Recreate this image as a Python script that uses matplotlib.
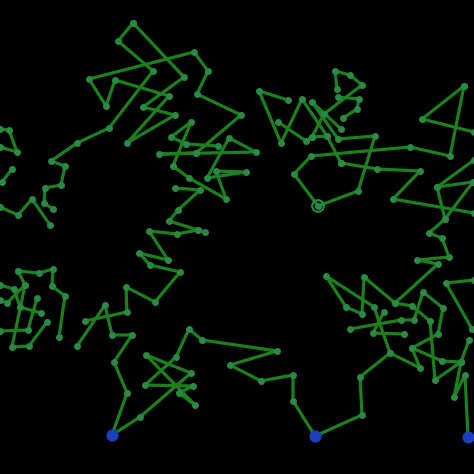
import matplotlib
matplotlib.use("Agg")
import matplotlib.pyplot as plt

# polylines in image pixel coordinates (x right, y down)
chain_a = [(112,435),(127,393),(114,362),(132,335),(112,335),(105,305),(77,346)]
chain_b = [(85,321),(127,312),(126,287),(155,302),(180,272),(150,265),(139,253),(168,260),(149,231),(177,234),(198,230),(205,232)]
chain_c = [(112,435),(140,417),(191,373),(146,355),(195,405),(179,393),(193,386),(145,385),(176,357),(189,329),(202,340),(277,351),(230,365),(261,381),(293,375),(293,401),(315,436)]
chain_d = [(315,436),(362,415),(360,377),(390,353),(374,307),(326,276),(346,307),(362,314),(364,277),(395,303),(438,264),(417,260),(449,257),(442,238),(429,233),(445,219),(473,182)]
chain_e = [(390,353),(420,368),(412,348),(442,361),(461,362),(469,340)]
chain_f = [(350,329),(401,320),(414,320),(423,292),(443,308),(438,334),(412,348)]
chain_g = [(384,312),(373,333),(404,334)]
chain_h = [(468,437),(465,375),(454,397),(461,362),(435,380),(430,321),(412,306),(395,303)]
chain_i = [(474,280),(446,283),(472,329)]
chain_j = [(464,86),(422,119),(474,132)]
chain_k = [(464,86),(450,156),(410,147),(311,156),(294,174),(318,206),(358,191),(375,136),(338,139),(312,102),(341,129)]
chain_l = [(341,163),(377,169),(420,171),(393,199),(474,213)]
chain_m = [(327,136),(341,163)]
chain_n = [(437,187),(473,182)]
chain_o = [(445,219),(437,187),(474,160)]
chain_p = [(288,100),(259,91),(281,143),(302,99),(327,136),(312,137),(306,141),(278,122)]
chain_q = [(337,89),(335,71),(350,75),(362,85),(324,114),(312,137)]
chain_r = [(338,97),(359,99),(357,109),(343,118)]
chain_s = [(133,23),(118,41),(153,71),(109,128),(77,143),(51,161),(65,166),(61,185),(45,188),(44,203),(53,209)]
chain_t = [(133,23),(184,77),(143,107),(175,115),(127,143),(169,96),(115,80),(106,106),(89,79),(194,52),(208,71),(197,94),(241,115),(196,153)]
chain_u = [(196,153),(159,154),(256,152),(229,138),(207,178),(246,172),(216,171),(226,199),(189,178),(173,166),(191,122),(171,137),(186,144),(218,146)]
chain_v = [(175,188),(200,190),(178,210),(169,221),(198,230)]
chain_w = [(0,207),(18,215),(32,199),(50,225)]
chain_x = [(0,129),(9,130),(17,152),(0,147)]
chain_y = [(12,169),(2,182)]
chain_z = [(18,271),(39,273),(53,269),(52,286),(65,296),(59,337)]
chain_aa = [(18,271),(25,285),(12,347),(29,346),(47,322)]
chain_ab = [(0,285),(14,289),(20,307),(41,313)]
chain_ac = [(37,298),(28,330),(0,331)]
chain_ad = [(0,300),(7,303),(25,285)]

chains = [chain_a, chain_b, chain_c, chain_d, chain_e, chain_f, chain_g, chain_h,
          chain_i, chain_j, chain_k, chain_l, chain_m, chain_n, chain_o, chain_p,
          chain_q, chain_r, chain_s, chain_t, chain_u, chain_v, chain_w, chain_x,
          chain_y, chain_z, chain_aa, chain_ab, chain_ac, chain_ad]

depots = [(112,435),(315,436),(468,437)]
start = (318,206)

fig = plt.figure(figsize=(4.74, 4.74), dpi=100, facecolor='black')
ax = fig.add_axes([0, 0, 1, 1])
ax.set_facecolor('black')

for ch in chains:
    xs = [p[0] for p in ch]
    ys = [p[1] for p in ch]
    ax.plot(xs, ys, color='#1c801c', lw=2.3, zorder=2)
    ax.scatter(xs, ys, s=16, color='#2a8a45', zorder=3)

ax.scatter([start[0]], [start[1]], s=70, facecolor='none', edgecolor='#2a8a45', lw=1.5, zorder=4)
ax.scatter([p[0] for p in depots], [p[1] for p in depots], s=60, color='#1a3fbf', zorder=5)

ax.set_xlim(0, 474)
ax.set_ylim(474, 0)
ax.axis('off')

plt.savefig("out.png", dpi=100, facecolor='black')
